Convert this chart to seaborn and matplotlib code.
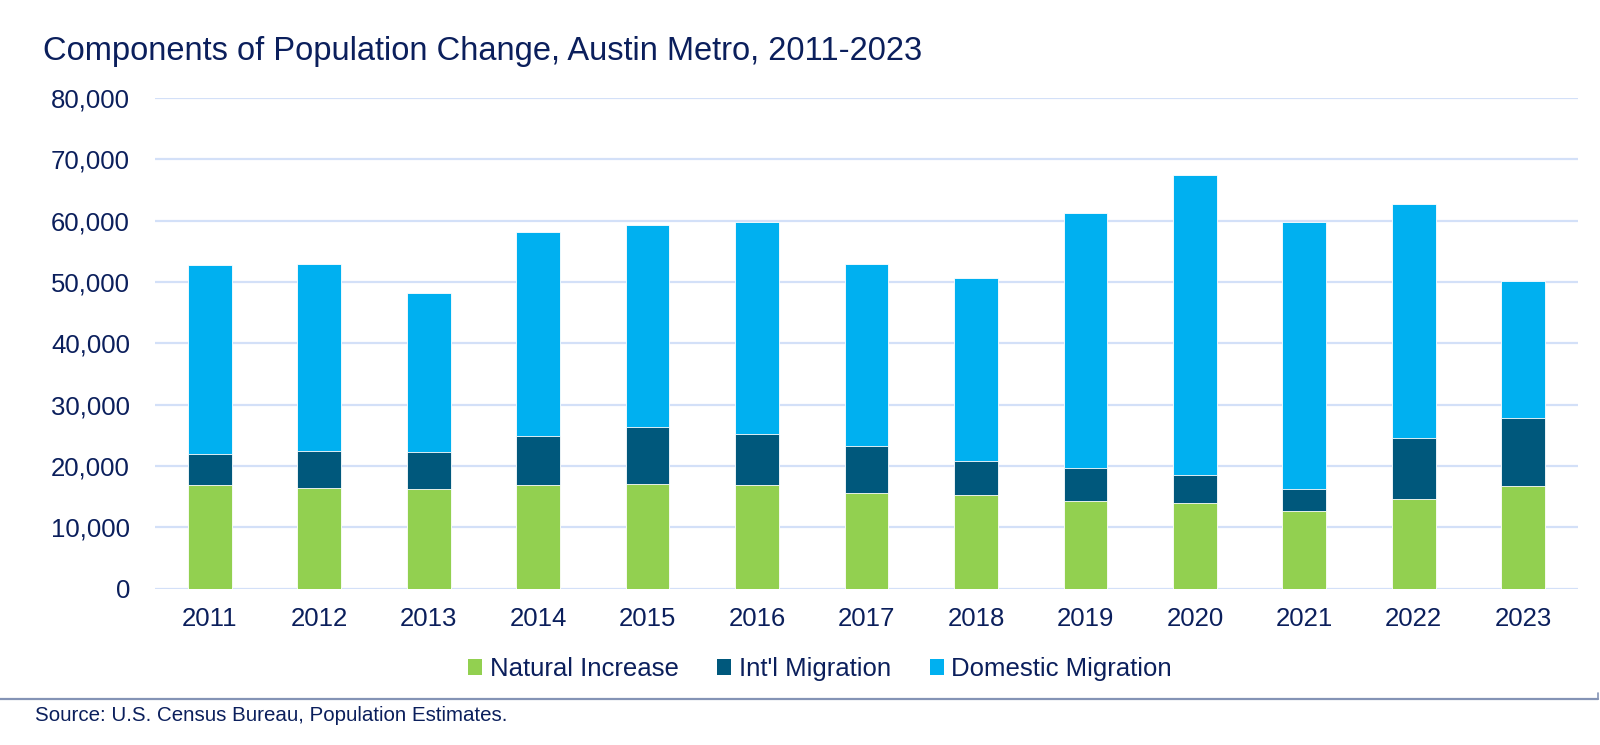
import numpy as np
import pandas as pd
import matplotlib
matplotlib.use("Agg")
import matplotlib.pyplot as plt
from matplotlib.patches import Patch
from matplotlib.lines import Line2D
import seaborn as sns

# ---- data ----
years = ["2011", "2012", "2013", "2014", "2015", "2016", "2017",
         "2018", "2019", "2020", "2021", "2022", "2023"]
natural_increase = [16830, 16340, 16230, 16880, 17150, 16830, 15580,
                    15200, 14220, 14010, 12650, 14600, 16780]
intl_migration = [5210, 6080, 6080, 7980, 9180, 8470, 7710,
                  5590, 5430, 4450, 3530, 9940, 11070]
domestic_migration = [30780, 30460, 25840, 33280, 32900, 34420, 29590,
                      29810, 41590, 48910, 43540, 38110, 22370]
series_names = ["Natural Increase", "Int'l Migration", "Domestic Migration"]
y_ticks = [0, 10000, 20000, 30000, 40000, 50000, 60000, 70000, 80000]

colors = {"Natural Increase": "#92D050",
          "Int'l Migration": "#00587C",
          "Domestic Migration": "#00B0F0"}
navy = "#0B1F5C"
grid_color = "#D3E0F8"

sns.set_theme(style="white")
plt.rcParams["font.family"] = ["Liberation Sans", "DejaVu Sans"]

df = pd.DataFrame({"year": years,
                   "Natural Increase": natural_increase,
                   "Int'l Migration": intl_migration,
                   "Domestic Migration": domestic_migration})
df["top_nat"] = df["Natural Increase"]
df["top_intl"] = df["top_nat"] + df["Int'l Migration"]
df["top_dom"] = df["top_intl"] + df["Domestic Migration"]

fig = plt.figure(figsize=(16, 7.45), dpi=100)
ax = fig.add_axes([155 / 1600, 1 - 588.7 / 745, (1578 - 155) / 1600, (588.7 - 98) / 745])

for col, name in [("top_dom", "Domestic Migration"),
                  ("top_intl", "Int'l Migration"),
                  ("top_nat", "Natural Increase")]:
    sns.barplot(data=df, x="year", y=col, color=colors[name], width=0.40,
                saturation=1, ax=ax, edgecolor="white", linewidth=0.6, zorder=3)

ax.set_xlim(-0.5, len(years) - 0.5)
ax.set_ylim(0, 80000)
ax.set_yticks(y_ticks)
ax.set_yticklabels([f"{v:,}" for v in y_ticks])
ax.set_xlabel("")
ax.set_ylabel("")
for v in y_ticks:
    ax.axhline(v, color=grid_color, linewidth=1.6, zorder=1)
for s in ax.spines.values():
    s.set_visible(False)
ax.tick_params(axis="both", length=0, labelsize=18.5, labelcolor=navy)
ax.tick_params(axis="y", pad=18)
ax.tick_params(axis="x", pad=13)

# title
fig.text(43 / 1600, 1 - 60 / 745, "Components of Population Change, Austin Metro, 2011-2023",
         fontsize=23.5, color=navy, va="baseline", ha="left")

# legend
handles = [Patch(facecolor=colors[n], edgecolor="none", label=n) for n in series_names]
fig.legend(handles=handles, loc="center", bbox_to_anchor=(820 / 1600, 1 - 669 / 745),
           ncol=3, frameon=False, fontsize=18.5, labelcolor=navy,
           handlelength=0.55, handleheight=0.55, handletextpad=0.3,
           columnspacing=1.5, borderpad=0)

# separator line and source
fig.add_artist(Line2D([0, 0.9985], [1 - 699 / 745] * 2, transform=fig.transFigure,
                      color="#8493B5", linewidth=1.6))
fig.add_artist(Line2D([0.9985, 0.9985], [1 - 699 / 745, 1 - 693 / 745],
                      transform=fig.transFigure, color="#8493B5", linewidth=1.2))
fig.text(35 / 1600, 1 - 721 / 745, "Source: U.S. Census Bureau, Population Estimates.",
         fontsize=14.8, color=navy, va="baseline", ha="left")

fig.savefig("out.png", dpi=100, facecolor="white")
